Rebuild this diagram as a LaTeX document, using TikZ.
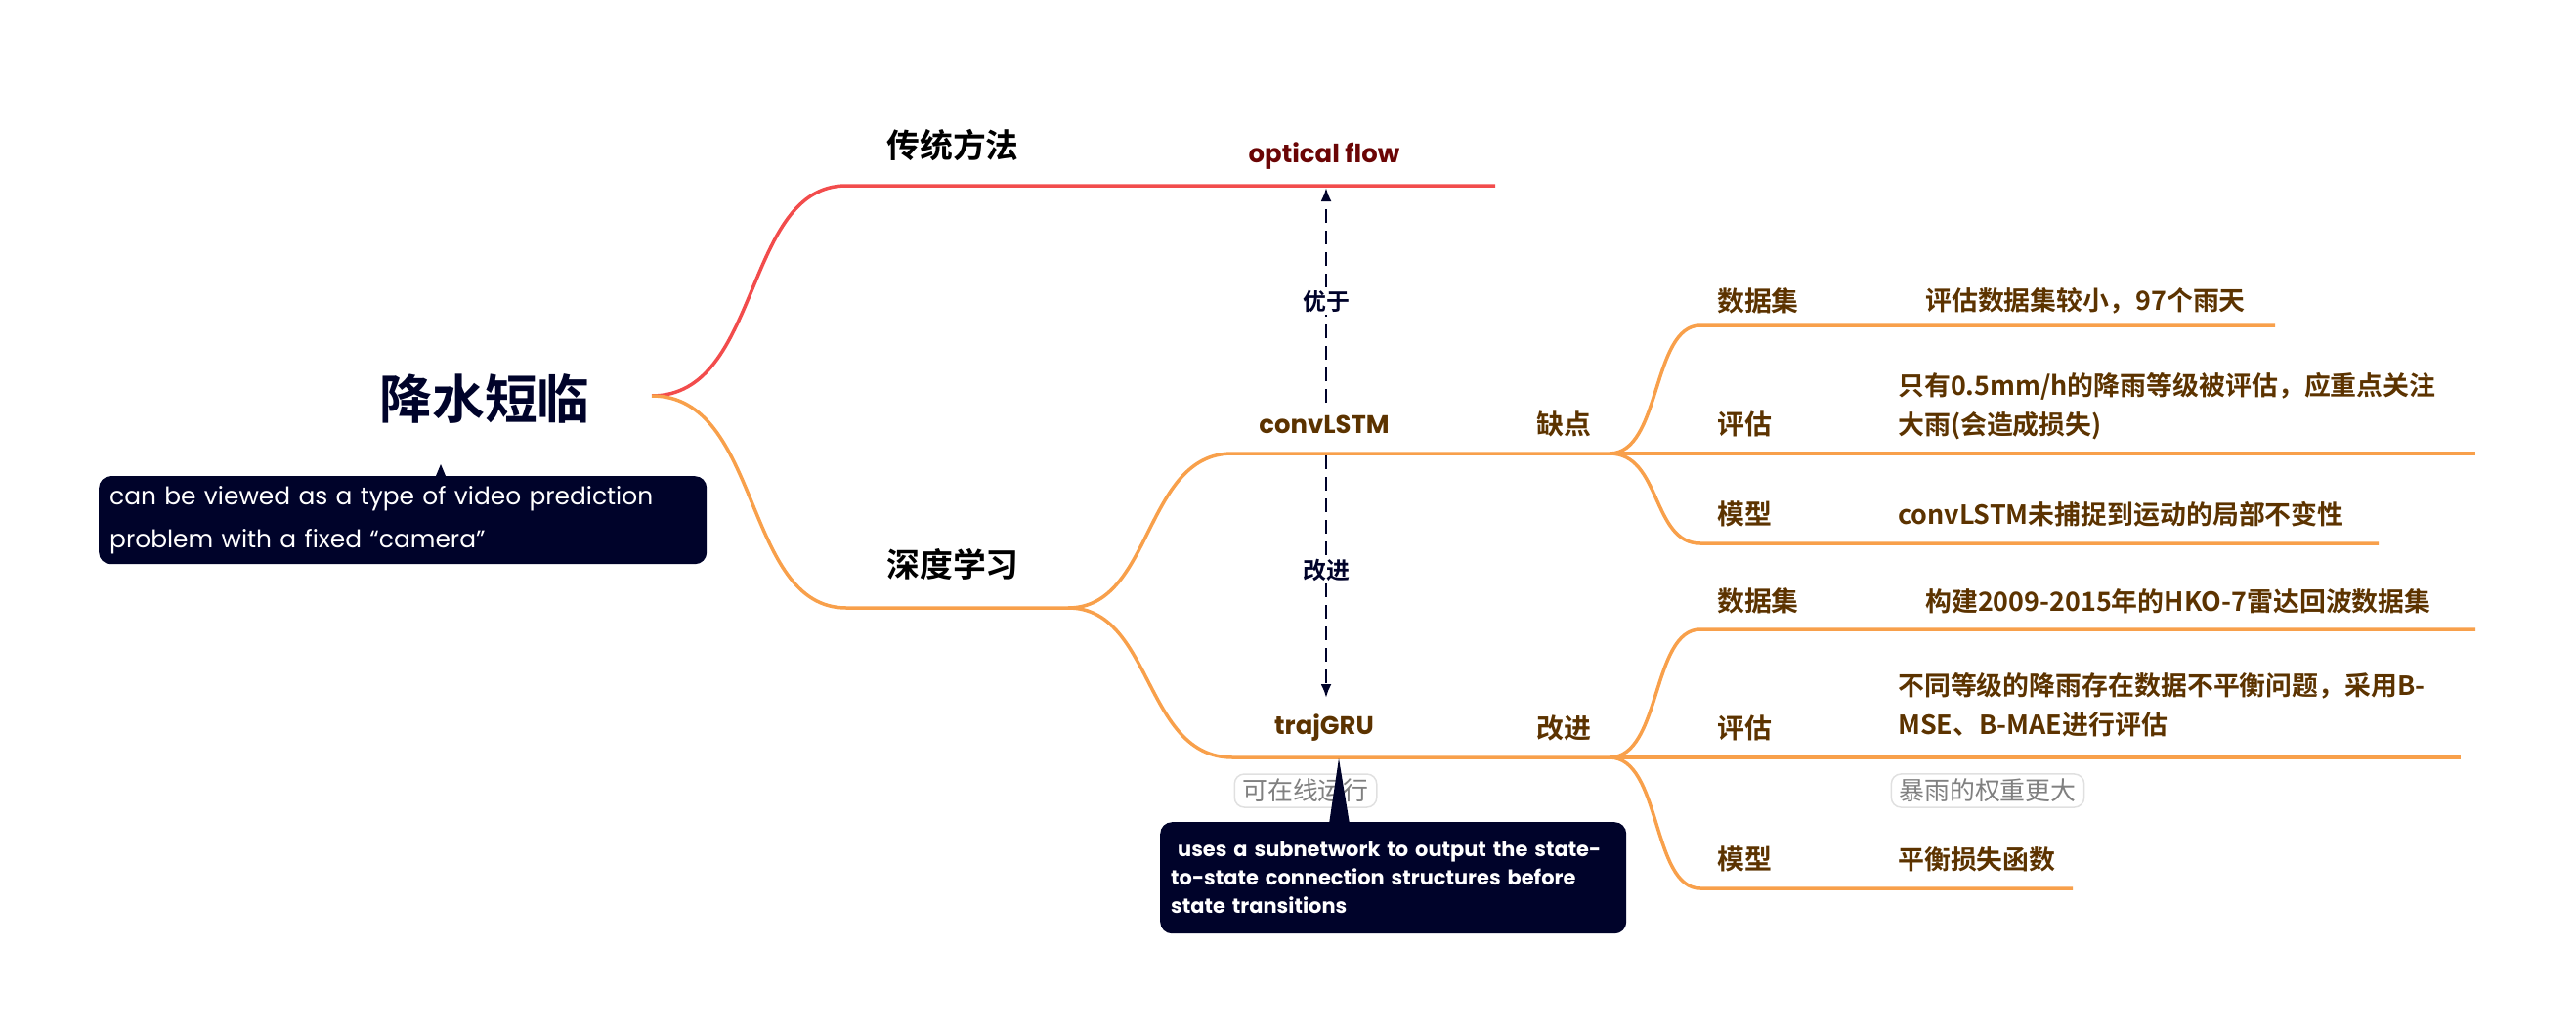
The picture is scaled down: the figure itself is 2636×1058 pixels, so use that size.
\documentclass[tikz,border=0pt]{standalone}
\usepackage{fontspec}
\setmainfont{Noto Sans CJK SC}[BoldFont={Noto Sans CJK SC Bold}]
\newfontfamily\lat{Poppins}
\usetikzlibrary{arrows.meta}
\definecolor{red1}{HTML}{F24C4C}
\definecolor{org}{HTML}{F8A04B}
\definecolor{brn}{HTML}{5C3300}
\definecolor{dred}{HTML}{6B0505}
\definecolor{navy}{HTML}{00032A}
\tikzset{
  lbl/.style={font=\bfseries\fontsize{28}{34}\selectfont, text=brn, inner sep=0},
  main/.style={font=\bfseries\fontsize{34}{40}\selectfont, text=black, inner sep=0},
  det/.style={font=\bfseries\fontsize{27}{40}\selectfont, text=brn, inner sep=0, align=left, anchor=west},
  br/.style={org, line width=3.5bp},
  note/.style={fill=navy, rounded corners=12bp, text=white, align=left, anchor=north west, inner sep=0},
  tag/.style={draw=black!12, line width=1.5bp, rounded corners=10bp, text=black!50, font=\fontsize{26}{30}\selectfont, inner xsep=8bp, inner ysep=5bp},
  dar/.style={navy, line width=2.5bp, dash pattern=on 14bp off 8bp, -{Latex[length=14bp,width=11bp]}},
}
\begin{document}
\begin{tikzpicture}[x=1bp,y=-1bp]
\useasboundingbox (0,0) rectangle (2636,1058);
% root
\node[font=\bfseries\fontsize{54}{60}\selectfont, text=navy] (root) at (496,408) {降水短临};
\coordinate (r0) at (667,405);
\coordinate (t0) at (866,190); \coordinate (t1) at (1530,190);
\coordinate (d0) at (866,622); \coordinate (d1) at (1093,622);
\draw[red1, line width=3.5bp] (r0) .. controls (780,405) and (760,190) .. (t0) -- (t1);
\draw[br] (r0) .. controls (780,405) and (760,622) .. (d0) -- (d1);
\node[main] (trad) at (975,148) {传统方法};
\node[main] (deep) at (975,577) {深度学习};
\node[font=\lat\bfseries\fontsize{26}{30}\selectfont, text=dred, inner sep=0] (of) at (1355,160) {optical flow};
% root note
\fill[navy] (446,487) -- (451,475) -- (456,487) -- cycle;
\node[note, minimum width=622bp, minimum height=90bp, text width=600bp, font=\lat\fontsize{25}{44}\selectfont, inner xsep=11bp, inner ysep=10bp] (rn) at (101,487) {can be viewed as a type of video prediction problem with a fixed “camera”};
% convLSTM / trajGRU
\coordinate (c0) at (1261,464); \coordinate (c1) at (1647,464);
\coordinate (g0) at (1261,775); \coordinate (g1) at (1647,775);
\draw[br] (d1) .. controls (1180,622) and (1170,464) .. (c0) -- (c1);
\draw[br] (d1) .. controls (1180,622) and (1170,775) .. (g0) -- (g1);
\node[font=\lat\bfseries\fontsize{26}{30}\selectfont, text=brn, inner sep=0] (cl) at (1355,434) {convLSTM};
\node[font=\lat\bfseries\fontsize{26}{30}\selectfont, text=brn, inner sep=0] (tg) at (1355,745) {trajGRU};
\node[lbl] (qd) at (1600,434) {缺点};
\node[lbl] (gj) at (1600,745) {改进};
% dashed arrows
\coordinate (a1) at (1357,192); \coordinate (a2) at (1357,412);
\node[font=\bfseries\fontsize{24}{28}\selectfont, text=navy, fill=white, inner sep=3bp] (yu) at (1357,308) {优于};
\draw[dar] (a2) -- (yu) -- (a1);
\coordinate (b1) at (1357,466); \coordinate (b2) at (1357,714);
\node[font=\bfseries\fontsize{24}{28}\selectfont, text=navy, fill=white, inner sep=3bp] (gj2) at (1357,583) {改进};
\draw[dar] (b1) -- (gj2) -- (b2);
% sub branches convLSTM
\draw[br] (c1) .. controls (1700,464) and (1690,333) .. (1740,333) -- (2328,333);
\draw[br] (c1) -- (2533,464);
\draw[br] (c1) .. controls (1700,464) and (1690,556) .. (1740,556) -- (2434,556);
\node[lbl] (s1) at (1799,308) {数据集};
\node[det] (s1d) at (1970,308) {评估数据集较小，97个雨天};
\node[lbl] (s2) at (1785,434) {评估};
\node[det] (s2d) at (1942,416) {只有0.5mm/h的降雨等级被评估，应重点关注\\大雨(会造成损失)};
\node[lbl] (s3) at (1785,526) {模型};
\node[det] (s3d) at (1942,526) {convLSTM未捕捉到运动的局部不变性};
% sub branches trajGRU
\draw[br] (g1) .. controls (1700,775) and (1690,644) .. (1740,644) -- (2533,644);
\draw[br] (g1) -- (2518,775);
\draw[br] (g1) .. controls (1700,775) and (1690,909) .. (1740,909) -- (2121,909);
\node[lbl] (u1) at (1799,615) {数据集};
\node[det] (u1d) at (1970,615) {构建2009-2015年的HKO-7雷达回波数据集};
\node[lbl] (u2) at (1785,745) {评估};
\node[det] (u2d) at (1942,721) {不同等级的降雨存在数据不平衡问题，采用B-\\MSE、B-MAE进行评估};
\node[lbl] (u3) at (1785,879) {模型};
\node[det] (u3d) at (1942,879) {平衡损失函数};
\node[tag] (tw) at (2034,809) {暴雨的权重更大};
% trajGRU tag and note
\node[tag] (tz) at (1336,809) {可在线运行};
\fill[navy] (1370,776) -- (1360,843) -- (1381,843) -- cycle;
\node[note, minimum width=472bp, minimum height=114bp, text width=455bp, font=\lat\bfseries\fontsize{21}{29}\selectfont, inner xsep=11bp, inner ysep=14bp] (tn) at (1187,841) {\ uses a subnetwork to output the state-to-state connection structures before state transitions};
\end{tikzpicture}
\end{document}
